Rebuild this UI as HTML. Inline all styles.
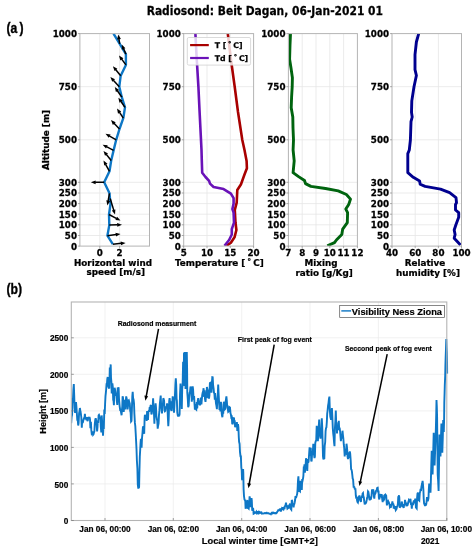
<!DOCTYPE html>
<html lang="en"><head><meta charset="utf-8"><title>Radiosond and visibility figure</title>
<style>html,body{margin:0;padding:0;background:#fff}svg{display:block;filter:blur(0.4px)}text{white-space:pre}</style>
</head><body>
<svg width="476" height="550" viewBox="0 0 476 550" role="img" aria-label="Radiosond profiles and visibility time series">
<rect width="476" height="550" fill="#fff"/>
<defs>
<clipPath id="c0"><rect x="79.9" y="33.6" width="69.6" height="212.5"/></clipPath>
<clipPath id="c1"><rect x="183.7" y="33.6" width="69.9" height="212.5"/></clipPath>
<clipPath id="c2"><rect x="288.4" y="33.6" width="69.0" height="212.5"/></clipPath>
<clipPath id="c3"><rect x="392.0" y="33.6" width="69.5" height="212.5"/></clipPath>
</defs>
<text transform="translate(264.80,14.60) scale(0.892,1)" font-family="'DejaVu Sans','Liberation Sans',sans-serif" font-size="12" font-weight="bold" text-anchor="middle" fill="#000"  stroke="#000" stroke-width="0.25">Radiosond: Beit Dagan, 06-Jan-2021 01</text>
<text transform="translate(6.40,32.60) scale(0.87,1)" font-family="'Liberation Sans','DejaVu Sans',sans-serif" font-size="14" font-weight="bold" text-anchor="start" fill="#000" stroke="#000" stroke-width="0.35">(a <tspan dx="-1.2">)</tspan></text>
<text transform="translate(6.40,294.00) scale(0.87,1)" font-family="'Liberation Sans','DejaVu Sans',sans-serif" font-size="14" font-weight="bold" text-anchor="start" fill="#000" stroke="#000" stroke-width="0.35">(b)</text>
<line x1="79.9" y1="235.5" x2="149.5" y2="235.5" stroke="#e6e6e6" stroke-width="0.8"/>
<line x1="79.9" y1="224.8" x2="149.5" y2="224.8" stroke="#e6e6e6" stroke-width="0.8"/>
<line x1="79.9" y1="214.2" x2="149.5" y2="214.2" stroke="#e6e6e6" stroke-width="0.8"/>
<line x1="79.9" y1="203.6" x2="149.5" y2="203.6" stroke="#e6e6e6" stroke-width="0.8"/>
<line x1="79.9" y1="193.0" x2="149.5" y2="193.0" stroke="#e6e6e6" stroke-width="0.8"/>
<line x1="79.9" y1="182.3" x2="149.5" y2="182.3" stroke="#e6e6e6" stroke-width="0.8"/>
<line x1="79.9" y1="139.8" x2="149.5" y2="139.8" stroke="#e6e6e6" stroke-width="0.8"/>
<line x1="79.9" y1="86.7" x2="149.5" y2="86.7" stroke="#e6e6e6" stroke-width="0.8"/>
<line x1="99.8" y1="33.6" x2="99.8" y2="246.1" stroke="#e6e6e6" stroke-width="0.8"/>
<line x1="119.6" y1="33.6" x2="119.6" y2="246.1" stroke="#e6e6e6" stroke-width="0.8"/>
<g clip-path="url(#c0)">
<polyline points="113.5,33.6 125.9,54.1 125.9,64.9 120.7,75.7 119.3,86.7 121.8,97.2 125.0,107.4 123.3,118.2 119.5,129.0 116.2,139.8 113.6,150.4 111.2,160.5 109.5,171.3 104.2,182.3 109.5,193.3 110.5,204.0 109.0,214.5 109.3,225.1 107.4,235.7 112.8,244.2" fill="none" stroke="#0e77c6" stroke-width="2.4" stroke-linejoin="round" stroke-linecap="butt" />
<line x1="119.7" y1="43.8" x2="118.9" y2="38.7" stroke="#000" stroke-width="1.5"/>
<polygon points="118.3,34.4 120.9,38.9 117.1,39.4" fill="#000"/>
<line x1="125.9" y1="54.1" x2="123.5" y2="48.5" stroke="#000" stroke-width="1.5"/>
<polygon points="121.8,44.5 125.4,48.2 121.9,49.7" fill="#000"/>
<line x1="125.9" y1="64.9" x2="121.5" y2="58.9" stroke="#000" stroke-width="1.5"/>
<polygon points="119.0,55.4 123.4,58.2 120.3,60.4" fill="#000"/>
<line x1="120.7" y1="75.7" x2="115.6" y2="69.5" stroke="#000" stroke-width="1.5"/>
<polygon points="112.9,66.2 117.4,68.7 114.5,71.1" fill="#000"/>
<line x1="119.3" y1="86.7" x2="113.3" y2="80.2" stroke="#000" stroke-width="1.5"/>
<polygon points="110.4,77.0 115.0,79.3 112.2,81.8" fill="#000"/>
<line x1="121.8" y1="97.2" x2="117.2" y2="90.5" stroke="#000" stroke-width="1.5"/>
<polygon points="114.8,87.0 119.1,89.9 115.9,92.0" fill="#000"/>
<line x1="125.0" y1="107.4" x2="120.8" y2="101.3" stroke="#000" stroke-width="1.5"/>
<polygon points="118.3,97.8 122.6,100.6 119.5,102.8" fill="#000"/>
<line x1="123.3" y1="118.2" x2="119.4" y2="112.2" stroke="#000" stroke-width="1.5"/>
<polygon points="117.0,108.6 121.2,111.6 118.0,113.7" fill="#000"/>
<line x1="119.5" y1="129.0" x2="114.0" y2="123.2" stroke="#000" stroke-width="1.5"/>
<polygon points="111.0,120.1 115.7,122.3 112.9,124.9" fill="#000"/>
<line x1="116.2" y1="139.8" x2="109.2" y2="135.8" stroke="#000" stroke-width="1.5"/>
<polygon points="105.5,133.7 110.6,134.4 108.7,137.7" fill="#000"/>
<line x1="113.6" y1="150.4" x2="106.4" y2="146.7" stroke="#000" stroke-width="1.5"/>
<polygon points="102.6,144.7 107.7,145.2 106.0,148.6" fill="#000"/>
<line x1="111.2" y1="160.5" x2="106.2" y2="154.3" stroke="#000" stroke-width="1.5"/>
<polygon points="103.5,150.9 108.0,153.5 105.0,155.8" fill="#000"/>
<line x1="109.5" y1="171.3" x2="105.6" y2="164.3" stroke="#000" stroke-width="1.5"/>
<polygon points="103.5,160.5 107.5,163.8 104.2,165.6" fill="#000"/>
<line x1="104.2" y1="182.3" x2="95.1" y2="182.3" stroke="#000" stroke-width="1.5"/>
<polygon points="90.8,182.3 95.6,180.4 95.6,184.2" fill="#000"/>
<line x1="109.5" y1="193.3" x2="108.1" y2="201.2" stroke="#000" stroke-width="1.5"/>
<polygon points="107.4,205.4 106.3,200.3 110.1,201.0" fill="#000"/>
<line x1="110.2" y1="198.5" x2="113.8" y2="210.4" stroke="#000" stroke-width="1.5"/>
<polygon points="115.0,214.5 111.8,210.4 115.4,209.4" fill="#000"/>
<line x1="109.0" y1="214.5" x2="116.7" y2="218.6" stroke="#000" stroke-width="1.5"/>
<polygon points="120.5,220.6 115.4,220.0 117.1,216.7" fill="#000"/>
<line x1="109.3" y1="225.1" x2="117.7" y2="224.8" stroke="#000" stroke-width="1.5"/>
<polygon points="122.0,224.7 117.3,226.8 117.1,223.0" fill="#000"/>
<line x1="107.4" y1="235.7" x2="116.2" y2="234.6" stroke="#000" stroke-width="1.5"/>
<polygon points="120.5,234.0 116.0,236.5 115.5,232.7" fill="#000"/>
<line x1="112.8" y1="244.2" x2="121.3" y2="243.3" stroke="#000" stroke-width="1.5"/>
<polygon points="125.6,242.9 121.0,245.3 120.6,241.5" fill="#000"/>
</g>
<rect x="79.9" y="33.6" width="69.6" height="212.5" fill="none" stroke="#b4b4b4" stroke-width="1"/>
<line x1="77.9" y1="246.1" x2="79.9" y2="246.1" stroke="#888" stroke-width="0.7"/>
<text transform="translate(77.00,249.60) scale(0.95,1)" font-family="'DejaVu Sans','Liberation Sans',sans-serif" font-size="9.2" font-weight="bold" text-anchor="end" fill="#000"  stroke="#000" stroke-width="0.25">0</text>
<line x1="77.9" y1="235.5" x2="79.9" y2="235.5" stroke="#888" stroke-width="0.7"/>
<text transform="translate(77.00,238.97) scale(0.95,1)" font-family="'DejaVu Sans','Liberation Sans',sans-serif" font-size="9.2" font-weight="bold" text-anchor="end" fill="#000"  stroke="#000" stroke-width="0.25">50</text>
<line x1="77.9" y1="224.8" x2="79.9" y2="224.8" stroke="#888" stroke-width="0.7"/>
<text transform="translate(77.00,228.35) scale(0.95,1)" font-family="'DejaVu Sans','Liberation Sans',sans-serif" font-size="9.2" font-weight="bold" text-anchor="end" fill="#000"  stroke="#000" stroke-width="0.25">100</text>
<line x1="77.9" y1="214.2" x2="79.9" y2="214.2" stroke="#888" stroke-width="0.7"/>
<text transform="translate(77.00,217.72) scale(0.95,1)" font-family="'DejaVu Sans','Liberation Sans',sans-serif" font-size="9.2" font-weight="bold" text-anchor="end" fill="#000"  stroke="#000" stroke-width="0.25">150</text>
<line x1="77.9" y1="203.6" x2="79.9" y2="203.6" stroke="#888" stroke-width="0.7"/>
<text transform="translate(77.00,207.10) scale(0.95,1)" font-family="'DejaVu Sans','Liberation Sans',sans-serif" font-size="9.2" font-weight="bold" text-anchor="end" fill="#000"  stroke="#000" stroke-width="0.25">200</text>
<line x1="77.9" y1="193.0" x2="79.9" y2="193.0" stroke="#888" stroke-width="0.7"/>
<text transform="translate(77.00,196.47) scale(0.95,1)" font-family="'DejaVu Sans','Liberation Sans',sans-serif" font-size="9.2" font-weight="bold" text-anchor="end" fill="#000"  stroke="#000" stroke-width="0.25">250</text>
<line x1="77.9" y1="182.3" x2="79.9" y2="182.3" stroke="#888" stroke-width="0.7"/>
<text transform="translate(77.00,185.85) scale(0.95,1)" font-family="'DejaVu Sans','Liberation Sans',sans-serif" font-size="9.2" font-weight="bold" text-anchor="end" fill="#000"  stroke="#000" stroke-width="0.25">300</text>
<line x1="77.9" y1="139.8" x2="79.9" y2="139.8" stroke="#888" stroke-width="0.7"/>
<text transform="translate(77.00,143.35) scale(0.95,1)" font-family="'DejaVu Sans','Liberation Sans',sans-serif" font-size="9.2" font-weight="bold" text-anchor="end" fill="#000"  stroke="#000" stroke-width="0.25">500</text>
<line x1="77.9" y1="86.7" x2="79.9" y2="86.7" stroke="#888" stroke-width="0.7"/>
<text transform="translate(77.00,90.22) scale(0.95,1)" font-family="'DejaVu Sans','Liberation Sans',sans-serif" font-size="9.2" font-weight="bold" text-anchor="end" fill="#000"  stroke="#000" stroke-width="0.25">750</text>
<line x1="77.9" y1="33.6" x2="79.9" y2="33.6" stroke="#888" stroke-width="0.7"/>
<text transform="translate(77.00,37.10) scale(0.95,1)" font-family="'DejaVu Sans','Liberation Sans',sans-serif" font-size="9.2" font-weight="bold" text-anchor="end" fill="#000"  stroke="#000" stroke-width="0.25">1000</text>
<line x1="99.8" y1="246.1" x2="99.8" y2="248.1" stroke="#888" stroke-width="0.7"/>
<text transform="translate(99.80,256.20) scale(0.95,1)" font-family="'DejaVu Sans','Liberation Sans',sans-serif" font-size="9.2" font-weight="bold" text-anchor="middle" fill="#000"  stroke="#000" stroke-width="0.25">0</text>
<line x1="119.6" y1="246.1" x2="119.6" y2="248.1" stroke="#888" stroke-width="0.7"/>
<text transform="translate(119.60,256.20) scale(0.95,1)" font-family="'DejaVu Sans','Liberation Sans',sans-serif" font-size="9.2" font-weight="bold" text-anchor="middle" fill="#000"  stroke="#000" stroke-width="0.25">2</text>
<line x1="183.7" y1="235.5" x2="253.6" y2="235.5" stroke="#e6e6e6" stroke-width="0.8"/>
<line x1="183.7" y1="224.8" x2="253.6" y2="224.8" stroke="#e6e6e6" stroke-width="0.8"/>
<line x1="183.7" y1="214.2" x2="253.6" y2="214.2" stroke="#e6e6e6" stroke-width="0.8"/>
<line x1="183.7" y1="203.6" x2="253.6" y2="203.6" stroke="#e6e6e6" stroke-width="0.8"/>
<line x1="183.7" y1="193.0" x2="253.6" y2="193.0" stroke="#e6e6e6" stroke-width="0.8"/>
<line x1="183.7" y1="182.3" x2="253.6" y2="182.3" stroke="#e6e6e6" stroke-width="0.8"/>
<line x1="183.7" y1="139.8" x2="253.6" y2="139.8" stroke="#e6e6e6" stroke-width="0.8"/>
<line x1="183.7" y1="86.7" x2="253.6" y2="86.7" stroke="#e6e6e6" stroke-width="0.8"/>
<line x1="207.0" y1="33.6" x2="207.0" y2="246.1" stroke="#e6e6e6" stroke-width="0.8"/>
<line x1="230.3" y1="33.6" x2="230.3" y2="246.1" stroke="#e6e6e6" stroke-width="0.8"/>
<g clip-path="url(#c1)">
<polyline points="227.8,33.6 231.0,60.0 234.7,86.7 238.0,112.0 242.3,140.0 244.5,150.0 246.6,160.9 246.9,168.2 244.5,174.5 240.9,184.5 237.3,190.0 236.7,202.7 234.8,210.0 235.5,222.7 236.4,230.0 234.5,237.3 230.9,242.7 226.4,245.8" fill="none" stroke="#a80000" stroke-width="2.6" stroke-linejoin="round" stroke-linecap="butt" />
<polyline points="195.4,33.6 196.5,55.0 198.4,86.7 199.5,110.0 201.0,140.0 201.5,150.0 201.8,160.9 202.2,172.7 205.5,177.0 209.1,180.9 210.0,183.6 213.6,187.0 223.6,189.1 230.9,193.6 233.6,198.2 233.6,203.6 232.4,209.1 233.6,212.7 234.0,222.7 231.8,229.1 231.8,234.5 229.1,240.0 224.5,245.8" fill="none" stroke="#6a12b8" stroke-width="2.6" stroke-linejoin="round" stroke-linecap="butt" />
</g>
<rect x="183.7" y="33.6" width="69.9" height="212.5" fill="none" stroke="#b4b4b4" stroke-width="1"/>
<line x1="181.7" y1="246.1" x2="183.7" y2="246.1" stroke="#888" stroke-width="0.7"/>
<text transform="translate(180.80,249.60) scale(0.95,1)" font-family="'DejaVu Sans','Liberation Sans',sans-serif" font-size="9.2" font-weight="bold" text-anchor="end" fill="#000"  stroke="#000" stroke-width="0.25">0</text>
<line x1="181.7" y1="235.5" x2="183.7" y2="235.5" stroke="#888" stroke-width="0.7"/>
<text transform="translate(180.80,238.97) scale(0.95,1)" font-family="'DejaVu Sans','Liberation Sans',sans-serif" font-size="9.2" font-weight="bold" text-anchor="end" fill="#000"  stroke="#000" stroke-width="0.25">50</text>
<line x1="181.7" y1="224.8" x2="183.7" y2="224.8" stroke="#888" stroke-width="0.7"/>
<text transform="translate(180.80,228.35) scale(0.95,1)" font-family="'DejaVu Sans','Liberation Sans',sans-serif" font-size="9.2" font-weight="bold" text-anchor="end" fill="#000"  stroke="#000" stroke-width="0.25">100</text>
<line x1="181.7" y1="214.2" x2="183.7" y2="214.2" stroke="#888" stroke-width="0.7"/>
<text transform="translate(180.80,217.72) scale(0.95,1)" font-family="'DejaVu Sans','Liberation Sans',sans-serif" font-size="9.2" font-weight="bold" text-anchor="end" fill="#000"  stroke="#000" stroke-width="0.25">150</text>
<line x1="181.7" y1="203.6" x2="183.7" y2="203.6" stroke="#888" stroke-width="0.7"/>
<text transform="translate(180.80,207.10) scale(0.95,1)" font-family="'DejaVu Sans','Liberation Sans',sans-serif" font-size="9.2" font-weight="bold" text-anchor="end" fill="#000"  stroke="#000" stroke-width="0.25">200</text>
<line x1="181.7" y1="193.0" x2="183.7" y2="193.0" stroke="#888" stroke-width="0.7"/>
<text transform="translate(180.80,196.47) scale(0.95,1)" font-family="'DejaVu Sans','Liberation Sans',sans-serif" font-size="9.2" font-weight="bold" text-anchor="end" fill="#000"  stroke="#000" stroke-width="0.25">250</text>
<line x1="181.7" y1="182.3" x2="183.7" y2="182.3" stroke="#888" stroke-width="0.7"/>
<text transform="translate(180.80,185.85) scale(0.95,1)" font-family="'DejaVu Sans','Liberation Sans',sans-serif" font-size="9.2" font-weight="bold" text-anchor="end" fill="#000"  stroke="#000" stroke-width="0.25">300</text>
<line x1="181.7" y1="139.8" x2="183.7" y2="139.8" stroke="#888" stroke-width="0.7"/>
<text transform="translate(180.80,143.35) scale(0.95,1)" font-family="'DejaVu Sans','Liberation Sans',sans-serif" font-size="9.2" font-weight="bold" text-anchor="end" fill="#000"  stroke="#000" stroke-width="0.25">500</text>
<line x1="181.7" y1="86.7" x2="183.7" y2="86.7" stroke="#888" stroke-width="0.7"/>
<text transform="translate(180.80,90.22) scale(0.95,1)" font-family="'DejaVu Sans','Liberation Sans',sans-serif" font-size="9.2" font-weight="bold" text-anchor="end" fill="#000"  stroke="#000" stroke-width="0.25">750</text>
<line x1="181.7" y1="33.6" x2="183.7" y2="33.6" stroke="#888" stroke-width="0.7"/>
<text transform="translate(180.80,37.10) scale(0.95,1)" font-family="'DejaVu Sans','Liberation Sans',sans-serif" font-size="9.2" font-weight="bold" text-anchor="end" fill="#000"  stroke="#000" stroke-width="0.25">1000</text>
<line x1="183.7" y1="246.1" x2="183.7" y2="248.1" stroke="#888" stroke-width="0.7"/>
<text transform="translate(183.70,256.20) scale(0.95,1)" font-family="'DejaVu Sans','Liberation Sans',sans-serif" font-size="9.2" font-weight="bold" text-anchor="middle" fill="#000"  stroke="#000" stroke-width="0.25">5</text>
<line x1="207.0" y1="246.1" x2="207.0" y2="248.1" stroke="#888" stroke-width="0.7"/>
<text transform="translate(207.00,256.20) scale(0.95,1)" font-family="'DejaVu Sans','Liberation Sans',sans-serif" font-size="9.2" font-weight="bold" text-anchor="middle" fill="#000"  stroke="#000" stroke-width="0.25">10</text>
<line x1="230.3" y1="246.1" x2="230.3" y2="248.1" stroke="#888" stroke-width="0.7"/>
<text transform="translate(230.30,256.20) scale(0.95,1)" font-family="'DejaVu Sans','Liberation Sans',sans-serif" font-size="9.2" font-weight="bold" text-anchor="middle" fill="#000"  stroke="#000" stroke-width="0.25">15</text>
<line x1="253.6" y1="246.1" x2="253.6" y2="248.1" stroke="#888" stroke-width="0.7"/>
<text transform="translate(253.60,256.20) scale(0.95,1)" font-family="'DejaVu Sans','Liberation Sans',sans-serif" font-size="9.2" font-weight="bold" text-anchor="middle" fill="#000"  stroke="#000" stroke-width="0.25">20</text>
<line x1="288.4" y1="235.5" x2="357.4" y2="235.5" stroke="#e6e6e6" stroke-width="0.8"/>
<line x1="288.4" y1="224.8" x2="357.4" y2="224.8" stroke="#e6e6e6" stroke-width="0.8"/>
<line x1="288.4" y1="214.2" x2="357.4" y2="214.2" stroke="#e6e6e6" stroke-width="0.8"/>
<line x1="288.4" y1="203.6" x2="357.4" y2="203.6" stroke="#e6e6e6" stroke-width="0.8"/>
<line x1="288.4" y1="193.0" x2="357.4" y2="193.0" stroke="#e6e6e6" stroke-width="0.8"/>
<line x1="288.4" y1="182.3" x2="357.4" y2="182.3" stroke="#e6e6e6" stroke-width="0.8"/>
<line x1="288.4" y1="139.8" x2="357.4" y2="139.8" stroke="#e6e6e6" stroke-width="0.8"/>
<line x1="288.4" y1="86.7" x2="357.4" y2="86.7" stroke="#e6e6e6" stroke-width="0.8"/>
<line x1="302.2" y1="33.6" x2="302.2" y2="246.1" stroke="#e6e6e6" stroke-width="0.8"/>
<line x1="316.0" y1="33.6" x2="316.0" y2="246.1" stroke="#e6e6e6" stroke-width="0.8"/>
<line x1="329.8" y1="33.6" x2="329.8" y2="246.1" stroke="#e6e6e6" stroke-width="0.8"/>
<line x1="343.6" y1="33.6" x2="343.6" y2="246.1" stroke="#e6e6e6" stroke-width="0.8"/>
<g clip-path="url(#c2)">
<polyline points="290.5,33.6 290.0,45.0 289.6,59.3 291.0,68.0 292.4,77.8 292.2,86.7 291.6,97.0 291.2,107.8 292.8,117.0 293.0,128.0 293.5,140.0 293.1,150.0 294.2,160.9 293.1,172.7 298.2,176.4 304.5,180.5 305.5,183.6 310.9,186.4 325.5,188.5 338.2,190.9 346.4,194.5 350.5,199.1 348.7,204.5 345.8,209.1 347.6,212.7 347.3,222.7 342.7,229.1 341.8,234.5 336.4,240.0 334.5,242.7 327.3,245.8" fill="none" stroke="#00640f" stroke-width="2.9" stroke-linejoin="round" stroke-linecap="butt" />
</g>
<rect x="288.4" y="33.6" width="69.0" height="212.5" fill="none" stroke="#b4b4b4" stroke-width="1"/>
<line x1="286.4" y1="246.1" x2="288.4" y2="246.1" stroke="#888" stroke-width="0.7"/>
<text transform="translate(285.50,249.60) scale(0.95,1)" font-family="'DejaVu Sans','Liberation Sans',sans-serif" font-size="9.2" font-weight="bold" text-anchor="end" fill="#000"  stroke="#000" stroke-width="0.25">0</text>
<line x1="286.4" y1="235.5" x2="288.4" y2="235.5" stroke="#888" stroke-width="0.7"/>
<text transform="translate(285.50,238.97) scale(0.95,1)" font-family="'DejaVu Sans','Liberation Sans',sans-serif" font-size="9.2" font-weight="bold" text-anchor="end" fill="#000"  stroke="#000" stroke-width="0.25">50</text>
<line x1="286.4" y1="224.8" x2="288.4" y2="224.8" stroke="#888" stroke-width="0.7"/>
<text transform="translate(285.50,228.35) scale(0.95,1)" font-family="'DejaVu Sans','Liberation Sans',sans-serif" font-size="9.2" font-weight="bold" text-anchor="end" fill="#000"  stroke="#000" stroke-width="0.25">100</text>
<line x1="286.4" y1="214.2" x2="288.4" y2="214.2" stroke="#888" stroke-width="0.7"/>
<text transform="translate(285.50,217.72) scale(0.95,1)" font-family="'DejaVu Sans','Liberation Sans',sans-serif" font-size="9.2" font-weight="bold" text-anchor="end" fill="#000"  stroke="#000" stroke-width="0.25">150</text>
<line x1="286.4" y1="203.6" x2="288.4" y2="203.6" stroke="#888" stroke-width="0.7"/>
<text transform="translate(285.50,207.10) scale(0.95,1)" font-family="'DejaVu Sans','Liberation Sans',sans-serif" font-size="9.2" font-weight="bold" text-anchor="end" fill="#000"  stroke="#000" stroke-width="0.25">200</text>
<line x1="286.4" y1="193.0" x2="288.4" y2="193.0" stroke="#888" stroke-width="0.7"/>
<text transform="translate(285.50,196.47) scale(0.95,1)" font-family="'DejaVu Sans','Liberation Sans',sans-serif" font-size="9.2" font-weight="bold" text-anchor="end" fill="#000"  stroke="#000" stroke-width="0.25">250</text>
<line x1="286.4" y1="182.3" x2="288.4" y2="182.3" stroke="#888" stroke-width="0.7"/>
<text transform="translate(285.50,185.85) scale(0.95,1)" font-family="'DejaVu Sans','Liberation Sans',sans-serif" font-size="9.2" font-weight="bold" text-anchor="end" fill="#000"  stroke="#000" stroke-width="0.25">300</text>
<line x1="286.4" y1="139.8" x2="288.4" y2="139.8" stroke="#888" stroke-width="0.7"/>
<text transform="translate(285.50,143.35) scale(0.95,1)" font-family="'DejaVu Sans','Liberation Sans',sans-serif" font-size="9.2" font-weight="bold" text-anchor="end" fill="#000"  stroke="#000" stroke-width="0.25">500</text>
<line x1="286.4" y1="86.7" x2="288.4" y2="86.7" stroke="#888" stroke-width="0.7"/>
<text transform="translate(285.50,90.22) scale(0.95,1)" font-family="'DejaVu Sans','Liberation Sans',sans-serif" font-size="9.2" font-weight="bold" text-anchor="end" fill="#000"  stroke="#000" stroke-width="0.25">750</text>
<line x1="286.4" y1="33.6" x2="288.4" y2="33.6" stroke="#888" stroke-width="0.7"/>
<text transform="translate(285.50,37.10) scale(0.95,1)" font-family="'DejaVu Sans','Liberation Sans',sans-serif" font-size="9.2" font-weight="bold" text-anchor="end" fill="#000"  stroke="#000" stroke-width="0.25">1000</text>
<line x1="288.4" y1="246.1" x2="288.4" y2="248.1" stroke="#888" stroke-width="0.7"/>
<text transform="translate(288.40,256.20) scale(0.95,1)" font-family="'DejaVu Sans','Liberation Sans',sans-serif" font-size="9.2" font-weight="bold" text-anchor="middle" fill="#000"  stroke="#000" stroke-width="0.25">7</text>
<line x1="302.2" y1="246.1" x2="302.2" y2="248.1" stroke="#888" stroke-width="0.7"/>
<text transform="translate(302.20,256.20) scale(0.95,1)" font-family="'DejaVu Sans','Liberation Sans',sans-serif" font-size="9.2" font-weight="bold" text-anchor="middle" fill="#000"  stroke="#000" stroke-width="0.25">8</text>
<line x1="316.0" y1="246.1" x2="316.0" y2="248.1" stroke="#888" stroke-width="0.7"/>
<text transform="translate(316.00,256.20) scale(0.95,1)" font-family="'DejaVu Sans','Liberation Sans',sans-serif" font-size="9.2" font-weight="bold" text-anchor="middle" fill="#000"  stroke="#000" stroke-width="0.25">9</text>
<line x1="329.8" y1="246.1" x2="329.8" y2="248.1" stroke="#888" stroke-width="0.7"/>
<text transform="translate(329.80,256.20) scale(0.95,1)" font-family="'DejaVu Sans','Liberation Sans',sans-serif" font-size="9.2" font-weight="bold" text-anchor="middle" fill="#000"  stroke="#000" stroke-width="0.25">10</text>
<line x1="343.6" y1="246.1" x2="343.6" y2="248.1" stroke="#888" stroke-width="0.7"/>
<text transform="translate(343.60,256.20) scale(0.95,1)" font-family="'DejaVu Sans','Liberation Sans',sans-serif" font-size="9.2" font-weight="bold" text-anchor="middle" fill="#000"  stroke="#000" stroke-width="0.25">11</text>
<line x1="357.4" y1="246.1" x2="357.4" y2="248.1" stroke="#888" stroke-width="0.7"/>
<text transform="translate(357.40,256.20) scale(0.95,1)" font-family="'DejaVu Sans','Liberation Sans',sans-serif" font-size="9.2" font-weight="bold" text-anchor="middle" fill="#000"  stroke="#000" stroke-width="0.25">12</text>
<line x1="392.0" y1="235.5" x2="461.5" y2="235.5" stroke="#e6e6e6" stroke-width="0.8"/>
<line x1="392.0" y1="224.8" x2="461.5" y2="224.8" stroke="#e6e6e6" stroke-width="0.8"/>
<line x1="392.0" y1="214.2" x2="461.5" y2="214.2" stroke="#e6e6e6" stroke-width="0.8"/>
<line x1="392.0" y1="203.6" x2="461.5" y2="203.6" stroke="#e6e6e6" stroke-width="0.8"/>
<line x1="392.0" y1="193.0" x2="461.5" y2="193.0" stroke="#e6e6e6" stroke-width="0.8"/>
<line x1="392.0" y1="182.3" x2="461.5" y2="182.3" stroke="#e6e6e6" stroke-width="0.8"/>
<line x1="392.0" y1="139.8" x2="461.5" y2="139.8" stroke="#e6e6e6" stroke-width="0.8"/>
<line x1="392.0" y1="86.7" x2="461.5" y2="86.7" stroke="#e6e6e6" stroke-width="0.8"/>
<line x1="415.2" y1="33.6" x2="415.2" y2="246.1" stroke="#e6e6e6" stroke-width="0.8"/>
<line x1="438.4" y1="33.6" x2="438.4" y2="246.1" stroke="#e6e6e6" stroke-width="0.8"/>
<g clip-path="url(#c3)">
<polyline points="418.7,33.6 416.4,42.0 415.0,54.7 415.0,69.7 416.4,75.5 414.0,86.7 411.8,100.9 411.5,112.4 412.2,117.0 411.0,121.7 410.4,140.0 409.3,150.0 407.8,153.6 407.8,172.7 413.3,177.3 419.6,180.9 420.2,184.2 425.1,186.4 440.5,189.1 449.6,192.7 456.0,197.6 456.5,202.7 455.5,204.5 455.5,210.0 458.7,212.7 458.7,217.3 456.0,224.5 454.2,230.0 455.1,234.5 454.2,238.2 460.5,244.9" fill="none" stroke="#00008f" stroke-width="2.9" stroke-linejoin="round" stroke-linecap="butt" />
</g>
<rect x="392.0" y="33.6" width="69.5" height="212.5" fill="none" stroke="#b4b4b4" stroke-width="1"/>
<line x1="390.0" y1="246.1" x2="392.0" y2="246.1" stroke="#888" stroke-width="0.7"/>
<text transform="translate(389.10,249.60) scale(0.95,1)" font-family="'DejaVu Sans','Liberation Sans',sans-serif" font-size="9.2" font-weight="bold" text-anchor="end" fill="#000"  stroke="#000" stroke-width="0.25">0</text>
<line x1="390.0" y1="235.5" x2="392.0" y2="235.5" stroke="#888" stroke-width="0.7"/>
<text transform="translate(389.10,238.97) scale(0.95,1)" font-family="'DejaVu Sans','Liberation Sans',sans-serif" font-size="9.2" font-weight="bold" text-anchor="end" fill="#000"  stroke="#000" stroke-width="0.25">50</text>
<line x1="390.0" y1="224.8" x2="392.0" y2="224.8" stroke="#888" stroke-width="0.7"/>
<text transform="translate(389.10,228.35) scale(0.95,1)" font-family="'DejaVu Sans','Liberation Sans',sans-serif" font-size="9.2" font-weight="bold" text-anchor="end" fill="#000"  stroke="#000" stroke-width="0.25">100</text>
<line x1="390.0" y1="214.2" x2="392.0" y2="214.2" stroke="#888" stroke-width="0.7"/>
<text transform="translate(389.10,217.72) scale(0.95,1)" font-family="'DejaVu Sans','Liberation Sans',sans-serif" font-size="9.2" font-weight="bold" text-anchor="end" fill="#000"  stroke="#000" stroke-width="0.25">150</text>
<line x1="390.0" y1="203.6" x2="392.0" y2="203.6" stroke="#888" stroke-width="0.7"/>
<text transform="translate(389.10,207.10) scale(0.95,1)" font-family="'DejaVu Sans','Liberation Sans',sans-serif" font-size="9.2" font-weight="bold" text-anchor="end" fill="#000"  stroke="#000" stroke-width="0.25">200</text>
<line x1="390.0" y1="193.0" x2="392.0" y2="193.0" stroke="#888" stroke-width="0.7"/>
<text transform="translate(389.10,196.47) scale(0.95,1)" font-family="'DejaVu Sans','Liberation Sans',sans-serif" font-size="9.2" font-weight="bold" text-anchor="end" fill="#000"  stroke="#000" stroke-width="0.25">250</text>
<line x1="390.0" y1="182.3" x2="392.0" y2="182.3" stroke="#888" stroke-width="0.7"/>
<text transform="translate(389.10,185.85) scale(0.95,1)" font-family="'DejaVu Sans','Liberation Sans',sans-serif" font-size="9.2" font-weight="bold" text-anchor="end" fill="#000"  stroke="#000" stroke-width="0.25">300</text>
<line x1="390.0" y1="139.8" x2="392.0" y2="139.8" stroke="#888" stroke-width="0.7"/>
<text transform="translate(389.10,143.35) scale(0.95,1)" font-family="'DejaVu Sans','Liberation Sans',sans-serif" font-size="9.2" font-weight="bold" text-anchor="end" fill="#000"  stroke="#000" stroke-width="0.25">500</text>
<line x1="390.0" y1="86.7" x2="392.0" y2="86.7" stroke="#888" stroke-width="0.7"/>
<text transform="translate(389.10,90.22) scale(0.95,1)" font-family="'DejaVu Sans','Liberation Sans',sans-serif" font-size="9.2" font-weight="bold" text-anchor="end" fill="#000"  stroke="#000" stroke-width="0.25">750</text>
<line x1="390.0" y1="33.6" x2="392.0" y2="33.6" stroke="#888" stroke-width="0.7"/>
<text transform="translate(389.10,37.10) scale(0.95,1)" font-family="'DejaVu Sans','Liberation Sans',sans-serif" font-size="9.2" font-weight="bold" text-anchor="end" fill="#000"  stroke="#000" stroke-width="0.25">1000</text>
<line x1="392.0" y1="246.1" x2="392.0" y2="248.1" stroke="#888" stroke-width="0.7"/>
<text transform="translate(392.00,256.20) scale(0.95,1)" font-family="'DejaVu Sans','Liberation Sans',sans-serif" font-size="9.2" font-weight="bold" text-anchor="middle" fill="#000"  stroke="#000" stroke-width="0.25">40</text>
<line x1="415.2" y1="246.1" x2="415.2" y2="248.1" stroke="#888" stroke-width="0.7"/>
<text transform="translate(415.20,256.20) scale(0.95,1)" font-family="'DejaVu Sans','Liberation Sans',sans-serif" font-size="9.2" font-weight="bold" text-anchor="middle" fill="#000"  stroke="#000" stroke-width="0.25">60</text>
<line x1="438.4" y1="246.1" x2="438.4" y2="248.1" stroke="#888" stroke-width="0.7"/>
<text transform="translate(438.40,256.20) scale(0.95,1)" font-family="'DejaVu Sans','Liberation Sans',sans-serif" font-size="9.2" font-weight="bold" text-anchor="middle" fill="#000"  stroke="#000" stroke-width="0.25">80</text>
<line x1="461.5" y1="246.1" x2="461.5" y2="248.1" stroke="#888" stroke-width="0.7"/>
<text transform="translate(461.50,256.20) scale(0.95,1)" font-family="'DejaVu Sans','Liberation Sans',sans-serif" font-size="9.2" font-weight="bold" text-anchor="middle" fill="#000"  stroke="#000" stroke-width="0.25">100</text>
<rect x="187.3" y="37.5" width="63.3" height="27.6" rx="1.5" fill="#fff" fill-opacity="0.8" stroke="#d0d0d0" stroke-width="0.8"/>
<line x1="190.1" y1="45.1" x2="208.8" y2="45.1" stroke="#a80000" stroke-width="2.2"/>
<line x1="190.1" y1="58.0" x2="208.8" y2="58.0" stroke="#6a12b8" stroke-width="2.2"/>
<text transform="translate(214.70,48.20)" font-family="'DejaVu Sans','Liberation Sans',sans-serif" font-size="7.8" font-weight="bold" text-anchor="start" fill="#000"  stroke="#000" stroke-width="0.25">T [&#8201;&#730;&#8201;C]</text>
<text transform="translate(214.70,61.10)" font-family="'DejaVu Sans','Liberation Sans',sans-serif" font-size="7.8" font-weight="bold" text-anchor="start" fill="#000"  stroke="#000" stroke-width="0.25">Td [&#8201;&#730;&#8201;C]</text>
<text transform="translate(49.40,140.00) rotate(-90) scale(1.04,1)" font-family="'DejaVu Sans','Liberation Sans',sans-serif" font-size="8.5" font-weight="bold" text-anchor="middle" fill="#000"  stroke="#000" stroke-width="0.25">Altitude [m]</text>
<text transform="translate(113.00,266.00) scale(0.957,1)" font-family="'DejaVu Sans','Liberation Sans',sans-serif" font-size="9.2" font-weight="bold" text-anchor="middle" fill="#000"  stroke="#000" stroke-width="0.25">Horizontal wind</text>
<text transform="translate(115.70,275.40) scale(0.957,1)" font-family="'DejaVu Sans','Liberation Sans',sans-serif" font-size="9.2" font-weight="bold" text-anchor="middle" fill="#000"  stroke="#000" stroke-width="0.25">speed [m/s]</text>
<text transform="translate(219.30,266.30) scale(0.957,1)" font-family="'DejaVu Sans','Liberation Sans',sans-serif" font-size="9.2" font-weight="bold" text-anchor="middle" fill="#000"  stroke="#000" stroke-width="0.25">Temperature [&#8201;&#730;&#8201;C]</text>
<text transform="translate(321.00,266.10) scale(0.957,1)" font-family="'DejaVu Sans','Liberation Sans',sans-serif" font-size="9.2" font-weight="bold" text-anchor="middle" fill="#000"  stroke="#000" stroke-width="0.25">Mixing</text>
<text transform="translate(324.10,275.50) scale(0.957,1)" font-family="'DejaVu Sans','Liberation Sans',sans-serif" font-size="9.2" font-weight="bold" text-anchor="middle" fill="#000"  stroke="#000" stroke-width="0.25">ratio [g/Kg]</text>
<text transform="translate(425.00,266.10) scale(0.957,1)" font-family="'DejaVu Sans','Liberation Sans',sans-serif" font-size="9.2" font-weight="bold" text-anchor="middle" fill="#000"  stroke="#000" stroke-width="0.25">Relative</text>
<text transform="translate(428.00,275.50) scale(0.957,1)" font-family="'DejaVu Sans','Liberation Sans',sans-serif" font-size="9.2" font-weight="bold" text-anchor="middle" fill="#000"  stroke="#000" stroke-width="0.25">humidity [%]</text>
<line x1="71.3" y1="483.9" x2="446.8" y2="483.9" stroke="#ebebeb" stroke-width="0.7"/>
<line x1="71.3" y1="447.4" x2="446.8" y2="447.4" stroke="#ebebeb" stroke-width="0.7"/>
<line x1="71.3" y1="410.9" x2="446.8" y2="410.9" stroke="#ebebeb" stroke-width="0.7"/>
<line x1="71.3" y1="374.3" x2="446.8" y2="374.3" stroke="#ebebeb" stroke-width="0.7"/>
<line x1="71.3" y1="337.8" x2="446.8" y2="337.8" stroke="#ebebeb" stroke-width="0.7"/>
<line x1="105.0" y1="302.0" x2="105.0" y2="520.5" stroke="#ebebeb" stroke-width="0.7"/>
<line x1="173.3" y1="302.0" x2="173.3" y2="520.5" stroke="#ebebeb" stroke-width="0.7"/>
<line x1="241.7" y1="302.0" x2="241.7" y2="520.5" stroke="#ebebeb" stroke-width="0.7"/>
<line x1="310.0" y1="302.0" x2="310.0" y2="520.5" stroke="#ebebeb" stroke-width="0.7"/>
<line x1="378.4" y1="302.0" x2="378.4" y2="520.5" stroke="#ebebeb" stroke-width="0.7"/>
<clipPath id="cb"><rect x="71.3" y="302.0" width="377.0" height="218.5"/></clipPath>
<polyline points="71.2,423.3 71.6,417.1 72.1,414.7 72.5,400.3 72.9,400.7 73.4,389.6 73.8,384.0 74.2,395.1 74.6,408.0 75.1,412.9 75.5,404.7 76.0,402.2 76.4,406.7 76.9,414.1 77.3,420.2 77.8,420.7 78.2,425.5 78.6,423.2 79.1,413.2 79.5,411.1 79.9,408.0 80.4,411.3 80.8,413.1 81.3,417.3 81.8,427.7 82.2,420.0 82.7,423.1 83.1,421.4 83.6,419.0 84.0,418.3 84.4,418.4 84.9,413.8 85.3,417.6 85.8,418.4 86.2,417.5 86.6,420.4 87.0,417.1 87.3,419.2 87.7,421.2 88.2,417.0 88.6,417.9 89.1,418.3 89.5,417.0 90.0,419.2 90.4,428.1 90.9,421.8 91.3,429.9 91.7,433.5 92.2,432.8 92.6,431.5 93.1,434.8 93.5,434.3 93.9,432.8 94.4,431.4 94.8,423.9 95.3,419.5 95.7,418.3 96.2,420.6 96.6,423.6 97.1,431.4 97.5,427.2 97.8,420.6 98.2,423.0 98.6,415.3 99.0,414.8 99.5,416.0 99.9,418.9 100.4,417.1 100.8,427.0 101.3,432.4 101.7,415.4 102.2,422.6 102.6,428.1 103.0,435.7 103.4,427.4 103.8,428.9 104.3,409.4 104.7,414.0 105.1,403.7 105.5,396.2 105.8,393.4 106.2,389.1 106.6,383.3 106.9,384.6 107.3,378.9 107.7,377.0 108.0,383.0 108.4,386.8 108.8,387.7 109.3,388.5 109.8,367.4 110.2,375.7 110.7,364.4 111.0,377.5 111.4,382.1 111.7,393.5 112.1,389.5 112.4,383.3 112.8,387.1 113.2,400.1 113.5,400.4 113.9,405.1 114.2,395.6 114.6,387.7 115.0,389.5 115.5,392.2 115.9,394.9 116.4,395.0 116.8,400.8 117.3,405.0 117.7,387.6 118.2,391.3 118.6,387.2 119.0,398.5 119.3,402.2 119.7,406.6 120.2,410.1 120.7,410.2 121.1,412.6 121.6,415.3 121.9,410.2 122.3,406.1 122.6,396.4 123.0,397.7 123.3,400.9 123.7,412.0 124.1,408.0 124.5,407.6 124.9,399.8 125.4,409.4 125.8,401.5 126.2,396.4 126.7,398.6 127.1,400.9 127.6,409.5 128.0,406.2 128.4,400.7 128.8,400.3 129.3,402.0 129.8,403.7 130.2,410.9 130.6,412.4 131.1,421.5 131.5,421.0 131.9,409.7 132.3,396.3 132.7,391.8 133.1,398.0 133.6,399.7 134.0,403.3 134.4,414.0 134.9,422.9 135.3,426.2 135.7,433.2 136.1,440.9 136.5,449.0 136.9,460.7 137.4,468.7 137.8,484.7 138.2,487.7 138.7,487.7 139.1,487.2 139.4,472.6 139.8,456.7 140.2,449.9 140.5,443.9 140.9,438.9 141.2,440.5 141.6,447.8 142.0,438.1 142.5,432.8 142.9,427.4 143.3,426.5 143.8,430.1 144.2,433.8 144.6,418.6 144.9,414.7 145.3,417.5 145.8,418.0 146.2,415.3 146.7,421.0 147.1,411.0 147.6,417.6 148.0,419.9 148.4,411.6 148.9,410.8 149.3,410.9 149.7,407.2 150.1,409.9 150.5,405.8 150.9,405.0 151.4,414.4 151.8,413.4 152.2,407.2 152.7,406.6 153.1,398.2 153.5,406.8 154.0,414.3 154.4,423.6 154.8,411.5 155.2,407.6 155.6,403.3 156.0,407.4 156.4,415.8 156.9,419.4 157.3,421.1 157.7,428.7 158.1,425.7 158.6,423.4 159.0,414.8 159.4,410.9 159.8,404.2 160.3,399.3 160.7,395.6 161.1,404.5 161.6,409.4 162.0,413.4 162.4,405.0 162.9,404.6 163.3,398.2 163.7,399.0 164.1,400.6 164.5,410.3 164.9,411.3 165.3,410.9 165.8,406.4 166.2,407.4 166.7,407.0 167.1,403.3 167.5,408.6 167.9,418.1 168.3,426.2 168.7,419.3 169.2,401.1 169.6,398.2 170.1,402.6 170.6,407.2 171.0,409.5 171.5,410.9 171.9,401.2 172.3,402.4 172.7,396.4 173.1,398.7 173.6,409.3 174.0,412.7 174.4,406.3 174.9,396.2 175.4,384.1 175.8,378.2 176.2,384.7 176.6,398.5 176.9,400.8 177.3,412.7 177.8,415.4 178.2,416.4 178.7,414.5 179.1,416.4 179.6,414.1 180.0,394.8 180.5,383.6 180.9,399.8 181.4,393.3 181.8,409.1 182.2,389.0 182.6,385.0 182.8,376.9 183.1,361.8 183.5,380.0 183.8,368.5 184.0,352.5 184.2,368.1 184.5,386.0 184.8,368.8 185.0,352.0 185.2,363.6 185.5,389.0 185.8,368.4 186.0,352.3 186.4,388.0 186.8,352.0 187.1,368.6 187.3,392.7 187.8,399.2 188.2,407.3 188.7,405.6 189.1,397.8 189.6,392.7 190.0,392.2 190.5,386.6 190.9,387.3 191.4,393.0 191.8,401.8 192.2,394.5 192.7,386.4 193.1,389.7 193.6,399.6 194.1,396.1 194.5,403.6 194.9,409.6 195.4,404.2 195.8,409.1 196.3,409.6 196.8,402.0 197.2,408.5 197.7,400.9 198.2,398.2 198.6,401.5 199.1,404.5 199.6,401.4 200.0,405.5 200.4,401.5 200.9,397.6 201.4,404.5 201.8,400.0 202.2,395.2 202.7,392.6 203.2,391.1 203.6,388.2 204.1,397.0 204.6,390.3 205.0,399.1 205.5,401.8 205.9,397.5 206.4,397.0 206.9,387.0 207.3,389.1 207.7,390.3 208.1,396.7 208.5,396.4 209.0,398.6 209.4,395.3 209.9,383.0 210.4,382.7 210.8,386.2 211.1,389.0 211.5,392.7 211.9,382.6 212.3,377.2 212.7,377.3 213.1,385.2 213.6,388.5 214.0,392.7 214.4,393.6 214.8,399.8 215.1,393.2 215.5,398.2 216.0,403.7 216.4,405.5 216.9,409.1 217.3,400.7 217.8,394.5 218.2,384.5 218.6,393.6 219.1,402.5 219.5,410.0 220.0,408.2 220.4,411.5 220.9,401.8 221.3,404.6 221.7,413.2 222.0,415.6 222.4,417.3 222.8,412.2 223.3,412.4 223.8,402.6 224.2,401.8 224.6,409.6 225.1,409.1 225.5,402.4 226.0,399.1 226.4,396.4 226.9,401.8 227.3,407.8 227.8,409.1 228.2,411.8 228.7,411.3 229.2,407.0 229.6,407.3 230.0,407.6 230.5,413.3 230.9,414.5 231.3,417.4 231.8,417.0 232.2,423.5 232.7,423.6 233.1,422.2 233.6,418.1 234.0,418.2 234.4,422.5 234.7,420.4 235.1,427.3 235.5,423.2 236.0,426.9 236.4,424.5 236.9,422.1 237.3,430.9 237.7,429.8 238.0,424.0 238.4,427.3 238.8,437.2 239.1,441.8 239.6,444.0 240.0,452.2 240.5,456.4 240.9,456.4 241.3,467.3 241.7,470.3 242.0,479.2 242.4,480.0 242.8,476.2 243.1,469.1 243.3,472.5 243.6,489.1 244.0,496.1 244.5,499.6 244.9,500.0 245.3,501.1 245.6,508.7 246.0,507.3 246.4,501.1 246.9,502.1 247.3,500.0 247.8,508.1 248.2,508.2 248.7,508.7 249.1,504.9 249.6,496.4 250.0,498.9 250.4,507.3 250.8,499.9 251.1,502.2 251.5,498.2 251.8,500.4 252.2,510.0 252.7,510.1 253.1,507.8 253.6,513.7 254.1,513.4 254.6,513.2 255.0,512.4 255.5,512.7 255.9,512.7 256.4,511.8 256.9,513.2 257.3,512.8 257.8,513.2 258.2,511.1 258.7,514.1 259.1,511.8 259.6,512.1 260.0,512.6 260.4,512.9 260.9,512.5 261.4,512.4 261.8,513.5 262.2,513.3 262.7,513.6 263.2,513.6 263.6,513.4 264.1,513.4 264.5,513.1 265.0,513.3 265.5,513.1 265.9,513.2 266.4,513.1 266.8,512.8 267.3,513.4 267.8,513.4 268.2,513.1 268.6,513.4 269.1,513.6 269.6,513.8 270.0,513.8 270.4,513.7 270.9,514.2 271.4,513.4 271.8,512.8 272.2,512.8 272.7,513.3 273.2,512.6 273.6,512.7 274.1,513.1 274.5,513.2 275.0,513.1 275.5,513.3 275.9,513.0 276.4,513.1 276.8,512.6 277.3,511.7 277.8,511.2 278.2,510.2 278.7,510.2 279.1,510.0 279.6,509.3 280.0,509.2 280.4,510.8 280.9,510.9 281.3,510.5 281.8,508.8 282.2,509.6 282.7,507.3 283.1,508.7 283.6,509.3 284.1,508.0 284.5,509.1 284.9,505.8 285.2,506.5 285.6,504.7 286.0,502.7 286.4,505.1 286.9,506.0 287.4,508.6 287.8,508.2 288.2,506.9 288.7,507.4 289.1,505.5 289.6,504.9 290.0,503.5 290.4,507.5 290.9,509.1 291.3,509.6 291.8,500.0 292.2,500.9 292.7,505.9 293.1,503.3 293.6,507.3 294.0,504.4 294.4,503.8 294.7,502.4 295.1,500.0 295.5,496.0 296.0,498.0 296.4,496.4 296.8,495.2 297.2,493.8 297.6,489.1 298.0,480.5 298.4,476.4 298.8,485.7 299.1,491.6 299.5,490.9 300.0,491.4 300.4,480.8 300.9,481.8 301.4,486.4 301.8,490.0 302.2,479.1 302.7,480.0 303.1,478.1 303.4,475.6 303.8,466.5 304.2,467.3 304.5,464.3 304.9,472.7 305.3,468.5 305.6,465.1 306.0,458.2 306.4,459.8 306.9,465.8 307.3,470.9 307.7,459.1 308.1,462.4 308.5,461.8 308.9,457.5 309.2,452.7 309.6,447.3 310.0,455.8 310.4,448.9 310.8,447.7 311.2,460.3 311.6,461.5 312.0,454.9 312.5,453.6 312.9,450.7 313.3,443.7 313.7,449.0 314.1,455.2 314.5,458.1 314.9,456.4 315.3,442.8 315.8,440.9 316.2,440.7 316.7,425.9 317.1,429.5 317.5,439.5 317.9,441.1 318.3,433.7 318.8,425.2 319.2,419.5 319.6,431.6 320.1,436.0 320.5,438.6 320.9,430.9 321.4,428.3 321.8,418.2 322.2,426.2 322.6,441.1 323.0,456.4 323.4,459.5 323.9,458.3 324.3,459.0 324.7,445.8 325.2,442.0 325.6,431.0 326.0,428.1 326.4,427.5 326.8,422.2 327.2,413.7 327.6,410.6 328.1,405.4 328.5,403.1 328.9,399.3 329.4,396.6 329.8,409.1 330.3,416.7 330.7,418.2 331.1,419.7 331.5,412.8 331.9,408.0 332.3,415.6 332.8,428.3 333.2,433.5 333.6,436.5 334.1,442.8 334.5,446.2 334.9,428.3 335.4,420.9 335.8,410.6 336.2,423.4 336.6,422.2 337.0,433.5 337.4,425.0 337.9,426.6 338.4,430.0 338.8,420.8 339.2,430.1 339.6,427.6 340.1,431.3 340.5,436.6 340.9,441.1 341.3,436.5 341.7,438.7 342.1,436.2 342.5,430.7 342.9,434.8 343.3,438.1 343.8,444.7 344.2,447.9 344.7,456.4 345.1,449.2 345.6,453.3 346.1,453.7 346.5,443.7 346.9,446.5 347.2,449.8 347.6,457.0 348.0,459.0 348.4,456.2 348.9,452.3 349.4,458.2 349.8,451.3 350.2,453.5 350.7,460.6 351.1,469.2 351.5,469.7 351.9,471.3 352.3,474.8 352.7,478.7 353.1,479.4 353.6,486.7 354.0,486.7 354.4,487.2 354.9,489.6 355.4,488.3 355.8,495.5 356.3,498.7 356.7,496.6 357.1,500.6 357.5,502.0 357.9,502.5 358.4,499.6 358.8,497.0 359.2,496.1 359.6,496.1 360.0,499.0 360.5,500.7 360.9,502.0 361.3,497.9 361.8,496.7 362.2,497.6 362.6,493.6 363.0,493.1 363.4,496.6 363.8,497.1 364.2,501.2 364.6,503.4 365.0,503.1 365.5,503.4 365.9,502.9 366.3,501.9 366.7,500.0 367.1,497.8 367.5,496.4 368.0,491.4 368.4,491.9 368.9,495.2 369.3,498.7 369.8,500.3 370.2,496.7 370.6,499.7 371.1,498.3 371.5,496.1 371.9,491.2 372.4,491.8 372.8,490.4 373.2,489.4 373.6,491.4 373.9,496.5 374.3,498.7 374.7,493.9 375.1,494.0 375.6,492.9 376.0,490.3 376.4,491.2 376.9,489.1 377.3,487.8 377.7,487.7 378.1,492.4 378.5,490.5 378.9,497.8 379.3,499.4 379.8,496.5 380.2,494.1 380.7,495.5 381.1,496.1 381.5,494.3 381.9,495.3 382.3,499.9 382.7,502.0 383.1,499.5 383.5,501.2 384.0,497.2 384.4,497.8 384.8,494.9 385.2,494.6 385.7,498.1 386.1,494.5 386.5,500.0 386.9,505.4 387.3,503.6 387.8,502.2 388.2,501.2 388.6,502.0 389.0,502.8 389.5,504.7 389.9,506.9 390.3,506.2 390.7,507.8 391.1,506.1 391.6,504.3 392.0,503.7 392.4,501.5 392.8,504.5 393.2,503.4 393.6,507.0 394.1,506.4 394.5,507.9 394.9,509.0 395.4,506.1 395.8,510.1 396.2,509.6 396.6,508.7 397.0,506.7 397.5,506.0 397.9,503.7 398.3,496.2 398.6,496.9 399.0,495.3 399.3,497.4 399.7,507.0 400.0,507.1 400.4,505.9 400.8,504.4 401.3,506.3 401.7,501.6 402.1,502.9 402.5,507.1 402.9,504.0 403.3,506.5 403.7,507.9 404.1,504.7 404.5,506.5 405.0,499.8 405.4,502.0 405.8,504.2 406.2,502.7 406.7,505.2 407.1,506.2 407.5,502.8 408.0,503.6 408.4,502.1 408.8,500.3 409.2,501.0 409.6,500.1 410.1,500.3 410.5,498.7 410.9,504.2 411.4,504.5 411.8,508.7 412.2,504.5 412.6,502.6 413.1,505.2 413.5,502.0 413.9,500.5 414.4,503.3 414.8,500.2 415.2,499.5 415.6,499.8 415.9,507.4 416.3,507.9 416.7,508.4 417.1,497.9 417.5,493.6 418.0,492.6 418.4,495.2 418.9,500.3 419.3,500.7 419.8,492.6 420.2,491.9 420.6,488.8 421.0,491.0 421.4,486.9 421.8,484.9 422.2,483.3 422.6,480.9 423.0,484.6 423.4,490.0 423.7,498.5 424.1,503.6 424.6,504.6 425.0,506.0 425.4,503.2 425.9,505.5 426.3,503.9 426.6,501.5 427.0,497.0 427.4,498.3 427.7,501.1 428.1,500.0 428.5,498.2 428.8,489.8 429.2,483.6 429.6,486.9 430.1,486.2 430.5,492.7 430.9,479.9 431.3,464.5 431.7,450.9 432.1,461.6 432.6,474.5 433.0,457.6 433.3,448.7 433.7,432.7 434.1,458.3 434.6,465.5 435.0,454.3 435.5,440.3 435.9,427.3 436.2,415.2 436.5,400.0 436.8,406.4 437.1,417.0 437.4,446.1 437.7,474.5 438.1,480.3 438.6,490.9 439.1,460.4 439.5,434.5 439.8,442.6 440.2,449.9 440.5,456.4 440.9,439.6 441.4,423.6 441.9,435.3 442.3,452.7 442.8,437.3 443.2,420.0 443.5,422.1 443.8,432.0 444.1,420.1 444.3,402.7 444.6,392.6 444.8,385.0 445.2,375.5 445.4,365.8 445.7,356.0 446.0,348.2 446.3,339.1 446.6,348.4 446.8,352.0 447.1,364.8 447.4,373.6" fill="none" stroke="#0e77c6" stroke-width="1.9" stroke-linejoin="miter" stroke-linecap="butt" clip-path="url(#cb)" stroke-miterlimit="3"/>
<rect x="71.3" y="302.0" width="375.5" height="218.5" fill="none" stroke="#b4b4b4" stroke-width="1.1"/>
<line x1="71.3" y1="520.5" x2="73.8" y2="520.5" stroke="#777" stroke-width="0.7"/>
<text transform="translate(68.30,524.10)" font-family="'Liberation Sans','DejaVu Sans',sans-serif" font-size="8.25" font-weight="bold" text-anchor="end" fill="#000"  stroke="#000" stroke-width="0.18">0</text>
<line x1="71.3" y1="483.9" x2="73.8" y2="483.9" stroke="#777" stroke-width="0.7"/>
<text transform="translate(68.30,487.55)" font-family="'Liberation Sans','DejaVu Sans',sans-serif" font-size="8.25" font-weight="bold" text-anchor="end" fill="#000"  stroke="#000" stroke-width="0.18">500</text>
<line x1="71.3" y1="447.4" x2="73.8" y2="447.4" stroke="#777" stroke-width="0.7"/>
<text transform="translate(68.30,451.00)" font-family="'Liberation Sans','DejaVu Sans',sans-serif" font-size="8.25" font-weight="bold" text-anchor="end" fill="#000"  stroke="#000" stroke-width="0.18">1000</text>
<line x1="71.3" y1="410.9" x2="73.8" y2="410.9" stroke="#777" stroke-width="0.7"/>
<text transform="translate(68.30,414.45)" font-family="'Liberation Sans','DejaVu Sans',sans-serif" font-size="8.25" font-weight="bold" text-anchor="end" fill="#000"  stroke="#000" stroke-width="0.18">1500</text>
<line x1="71.3" y1="374.3" x2="73.8" y2="374.3" stroke="#777" stroke-width="0.7"/>
<text transform="translate(68.30,377.90)" font-family="'Liberation Sans','DejaVu Sans',sans-serif" font-size="8.25" font-weight="bold" text-anchor="end" fill="#000"  stroke="#000" stroke-width="0.18">2000</text>
<line x1="71.3" y1="337.8" x2="73.8" y2="337.8" stroke="#777" stroke-width="0.7"/>
<text transform="translate(68.30,341.35)" font-family="'Liberation Sans','DejaVu Sans',sans-serif" font-size="8.25" font-weight="bold" text-anchor="end" fill="#000"  stroke="#000" stroke-width="0.18">2500</text>
<line x1="105.0" y1="520.5" x2="105.0" y2="518.0" stroke="#777" stroke-width="0.7"/>
<line x1="173.3" y1="520.5" x2="173.3" y2="518.0" stroke="#777" stroke-width="0.7"/>
<line x1="241.7" y1="520.5" x2="241.7" y2="518.0" stroke="#777" stroke-width="0.7"/>
<line x1="310.0" y1="520.5" x2="310.0" y2="518.0" stroke="#777" stroke-width="0.7"/>
<line x1="378.4" y1="520.5" x2="378.4" y2="518.0" stroke="#777" stroke-width="0.7"/>
<line x1="446.8" y1="520.5" x2="446.8" y2="518.0" stroke="#777" stroke-width="0.7"/>
<text transform="translate(105.00,532.30)" font-family="'Liberation Sans','DejaVu Sans',sans-serif" font-size="8.25" font-weight="bold" text-anchor="middle" fill="#000"  stroke="#000" stroke-width="0.18">Jan 06, 00:00</text>
<text transform="translate(173.35,532.30)" font-family="'Liberation Sans','DejaVu Sans',sans-serif" font-size="8.25" font-weight="bold" text-anchor="middle" fill="#000"  stroke="#000" stroke-width="0.18">Jan 06, 02:00</text>
<text transform="translate(241.70,532.30)" font-family="'Liberation Sans','DejaVu Sans',sans-serif" font-size="8.25" font-weight="bold" text-anchor="middle" fill="#000"  stroke="#000" stroke-width="0.18">Jan 06, 04:00</text>
<text transform="translate(310.05,532.30)" font-family="'Liberation Sans','DejaVu Sans',sans-serif" font-size="8.25" font-weight="bold" text-anchor="middle" fill="#000"  stroke="#000" stroke-width="0.18">Jan 06, 06:00</text>
<text transform="translate(378.40,532.30)" font-family="'Liberation Sans','DejaVu Sans',sans-serif" font-size="8.25" font-weight="bold" text-anchor="middle" fill="#000"  stroke="#000" stroke-width="0.18">Jan 06, 08:00</text>
<text transform="translate(446.35,532.30)" font-family="'Liberation Sans','DejaVu Sans',sans-serif" font-size="8.25" font-weight="bold" text-anchor="middle" fill="#000"  stroke="#000" stroke-width="0.18">Jan 06, 10:00</text>
<text transform="translate(420.90,544.00)" font-family="'Liberation Sans','DejaVu Sans',sans-serif" font-size="8.25" font-weight="bold" text-anchor="start" fill="#000"  stroke="#000" stroke-width="0.18">2021</text>
<text transform="translate(259.80,544.20)" font-family="'Liberation Sans','DejaVu Sans',sans-serif" font-size="9.3" font-weight="bold" text-anchor="middle" fill="#000"  stroke="#000" stroke-width="0.18">Local winter time [GMT+2]</text>
<text transform="translate(46.00,411.30) rotate(-90) scale(1.09,1)" font-family="'Liberation Sans','DejaVu Sans',sans-serif" font-size="8.3" font-weight="bold" text-anchor="middle" fill="#000"  stroke="#000" stroke-width="0.18">Height [m]</text>
<rect x="339.7" y="305.5" width="104.8" height="11.9" fill="#fff" stroke="#555" stroke-width="0.7"/>
<line x1="341.3" y1="310.9" x2="351.1" y2="310.9" stroke="#0b74c2" stroke-width="1.4"/>
<text transform="translate(351.80,314.70)" font-family="'Liberation Sans','DejaVu Sans',sans-serif" font-size="9.3" font-weight="bold" text-anchor="start" fill="#000"  stroke="#000" stroke-width="0.18">Visibility Ness Ziona</text>
<text transform="translate(157.00,325.60)" font-family="'Liberation Sans','DejaVu Sans',sans-serif" font-size="6.9" font-weight="bold" text-anchor="middle" fill="#000"  stroke="#000" stroke-width="0.18">Radiosond measurment</text>
<line x1="158.5" y1="328.9" x2="146.2" y2="396.5" stroke="#000" stroke-width="1.5"/>
<polygon points="145.4,400.7 144.4,395.6 148.1,396.3" fill="#000"/>
<text transform="translate(274.80,341.90)" font-family="'Liberation Sans','DejaVu Sans',sans-serif" font-size="6.95" font-weight="bold" text-anchor="middle" fill="#000"  stroke="#000" stroke-width="0.18">First peak of fog event</text>
<line x1="274.2" y1="344.7" x2="249.2" y2="484.0" stroke="#000" stroke-width="1.5"/>
<polygon points="248.4,488.2 247.4,483.1 251.1,483.8" fill="#000"/>
<text transform="translate(388.40,351.00)" font-family="'Liberation Sans','DejaVu Sans',sans-serif" font-size="6.87" font-weight="bold" text-anchor="middle" fill="#000"  stroke="#000" stroke-width="0.18">Seccond peak of fog event</text>
<line x1="387.2" y1="354.1" x2="360.3" y2="481.9" stroke="#000" stroke-width="1.5"/>
<polygon points="359.4,486.1 358.5,481.0 362.2,481.8" fill="#000"/>
</svg>
</body></html>
